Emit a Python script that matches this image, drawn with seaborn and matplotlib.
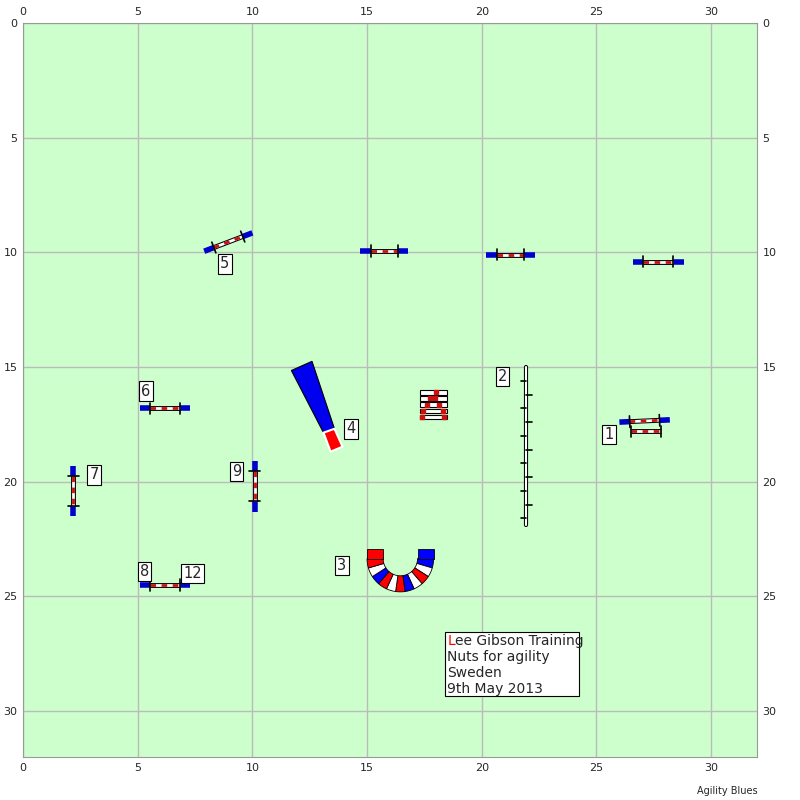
import numpy as np
import matplotlib
matplotlib.use("Agg")
import matplotlib.pyplot as plt
import seaborn as sns
from matplotlib.patches import Polygon, Wedge, Rectangle

sns.set_style("white")

# jumps: x1, y1, x2, y2
jump_x1 = [14.7, 20.2, 26.6, 7.9, 5.1, 2.2, 10.1, 5.1, 26.0]
jump_y1 = [9.95, 10.1, 10.4, 9.95, 16.8, 19.3, 19.1, 24.5, 17.4]
jump_x2 = [16.8, 22.3, 28.8, 10.0, 7.3, 2.2, 10.1, 7.3, 28.2]
jump_y2 = [9.95, 10.1, 10.4, 9.15, 16.8, 21.5, 21.3, 24.5, 17.3]
# second bar of the spread jump
spread_x = [26.5, 27.8]
spread_y = [17.8, 17.8]
# weave poles
weave_x = 21.95
weave_y = [15.0, 15.6, 16.2, 16.8, 17.4, 18.0, 18.6, 19.2, 19.8, 20.4, 21.0, 21.6, 21.9]
# tunnel 4
tunnel_x = [11.7, 12.6, 13.58, 13.1]
tunnel_y = [15.15, 14.75, 17.69, 17.86]
tunnel_end_x = [13.1, 13.58, 13.93, 13.41]
tunnel_end_y = [17.86, 17.69, 18.47, 18.69]
# U tunnel 3
u_cx, u_cy, u_r = 16.45, 23.35, 1.45
u_colors = ["blue", "white", "red", "white", "blue", "red", "white", "red", "blue", "white", "red"]
# table dots (x of red spots per row)
table_dots = [[18.0], [17.75, 17.95], [17.6, 18.15], [17.45, 18.3], [17.4, 18.35]]
# number labels
lab_text = ["1", "2", "3", "4", "5", "6", "7", "8", "9", "12"]
lab_x = [25.55, 20.9, 13.9, 14.3, 8.8, 5.35, 3.1, 5.3, 9.3, 7.4]
lab_y = [17.95, 15.4, 23.65, 17.7, 10.5, 16.05, 19.7, 23.9, 19.55, 24.0]
info_lines = ["Nuts for agility", "Sweden", "9th May 2013"]

fig = plt.figure(figsize=(8, 8), dpi=100)
ax = fig.add_axes([0.02875, 0.05375, 0.9175, 0.9175])
ax.set_facecolor("#ccffcc")
ax.set_xlim(0, 32)
ax.set_ylim(32, 0)
ax.set_xticks(range(0, 31, 5))
ax.set_yticks(range(0, 31, 5))
ax.grid(True, color="#bbbbbb", lw=1)
ax.tick_params(labelsize=8, top=True, right=True, labeltop=True, labelright=True, length=0, pad=4)
for s in ax.spines.values():
    s.set_color("#999999")


def jump(x1, y1, x2, y2, wings=True):
    d = np.array([x2 - x1, y2 - y1])
    u = d / np.hypot(*d)
    n = np.array([-u[1], u[0]])
    p1, p2 = np.array([x1, y1]), np.array([x2, y2])
    w = 0.45
    a, b = p1 + u * w, p2 - u * w
    ax.plot([a[0], b[0]], [a[1], b[1]], color="black", lw=3.5, solid_capstyle="butt", zorder=3)
    ax.plot([a[0], b[0]], [a[1], b[1]], color="white", lw=2, solid_capstyle="butt", zorder=4)
    ax.plot([a[0], b[0]], [a[1], b[1]], color="#cc1111", lw=2, dashes=(2, 2), zorder=5)
    if wings:
        for q, r in [(p1, a), (p2, b)]:
            ax.plot([q[0], r[0]], [q[1], r[1]], color="#0000cc", lw=4, solid_capstyle="butt", zorder=3)
    for r in (a, b):
        ax.plot([r[0] - n[0] * 0.25, r[0] + n[0] * 0.25], [r[1] - n[1] * 0.25, r[1] + n[1] * 0.25],
                color="black", lw=1.2, zorder=6)


for i in range(len(jump_x1)):
    jump(jump_x1[i], jump_y1[i], jump_x2[i], jump_y2[i])
jump(spread_x[0] - 0.45, spread_y[0], spread_x[1] + 0.45, spread_y[1], wings=False)

# weave
ax.plot([weave_x, weave_x], [weave_y[0], weave_y[-1]], color="black", lw=3, zorder=3)
ax.plot([weave_x, weave_x], [weave_y[0], weave_y[-1]], color="white", lw=1.5, zorder=4)
for i, yy in enumerate(weave_y[1:-1]):
    s = -1 if i % 2 == 0 else 1
    ax.plot([weave_x, weave_x + s * 0.25], [yy, yy], color="black", lw=1.2, zorder=5)

# table / tire stack
for k, dots in enumerate(table_dots):
    yy = 16.1 + k * 0.27
    ax.add_patch(Rectangle((17.3, yy - 0.1), 1.2, 0.2, fc="white", ec="black", lw=0.8, zorder=3))
    ax.plot(dots, [yy] * len(dots), "s", color="#cc1111", ms=2.5, zorder=4)

# tunnel 4
ax.add_patch(Polygon(list(zip(tunnel_x, tunnel_y)), fc="#0000ee", ec="black", lw=0.8, zorder=3))
ax.add_patch(Polygon(list(zip(tunnel_end_x, tunnel_end_y)), fc="red", ec="white", lw=1.5, zorder=3))

# U tunnel
n = len(u_colors)
for i, c in enumerate(u_colors):
    t1 = 180 * i / n
    ax.add_patch(Wedge((u_cx, u_cy), u_r, t1, t1 + 180 / n, width=0.7, fc=c, ec="black", lw=0.6, zorder=3))
for xx, c1 in [(u_cx - u_r + 0.35, "red"), (u_cx + u_r - 0.35, "blue")]:
    ax.add_patch(Rectangle((xx - 0.35, u_cy - 0.4), 0.7, 0.4, fc=c1, ec="black", lw=0.6, zorder=3))

for t, x, y in zip(lab_text, lab_x, lab_y):
    ax.text(x, y, t, ha="center", va="center", fontsize=10.5, zorder=7,
            bbox=dict(fc="white", ec="black", lw=0.8, boxstyle="square,pad=0.15"))

# info box
ax.add_patch(Rectangle((18.4, 26.55), 5.85, 2.8, fc="white", ec="black", lw=0.8, zorder=6))
t = ax.text(18.5, 26.95, "L", color="red", fontsize=10, va="center", zorder=7)
ax.annotate("ee Gibson Training", xycoords=t, xy=(1, 0.5), va="center", fontsize=10, zorder=7,
            annotation_clip=False)
for k, line in enumerate(info_lines):
    ax.text(18.5, 27.65 + k * 0.7, line, fontsize=10, va="center", zorder=7)

fig.text(0.947, 0.005, "Agility Blues", fontsize=7, ha="right", va="bottom")
fig.savefig("out.png", dpi=100)
